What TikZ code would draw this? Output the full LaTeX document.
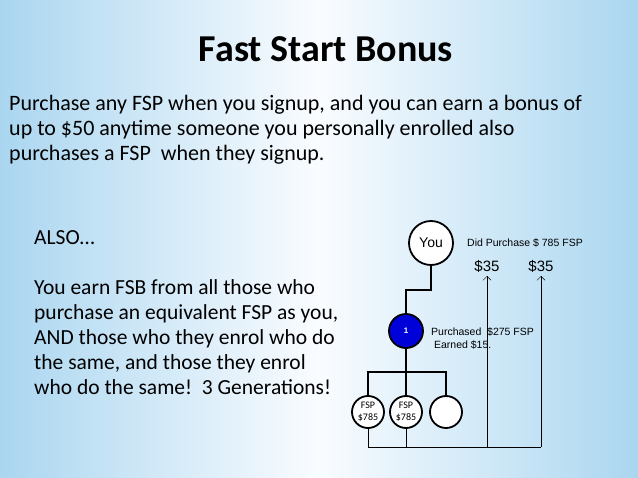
\documentclass[tikz,border=0pt]{standalone}
\usepackage{fontspec}
\setmainfont{Carlito}
\newfontfamily\arial{Liberation Sans}
\usetikzlibrary{arrows.meta}
\definecolor{bgblue}{RGB}{170,214,240}
\definecolor{bglight}{RGB}{250,252,255}
\begin{document}
\begin{tikzpicture}[x=1pt,y=-1pt,
  thick/.style={line width=2pt},
  circ/.style={circle,draw=black,line width=1.8pt,fill=white,inner sep=0pt},
  body/.style={font=\fontsize{21.5}{25}\selectfont,align=left,anchor=north west,inner sep=0pt},
  lab/.style={font=\arial\fontsize{10.5}{13}\selectfont,inner sep=0pt}]
\useasboundingbox (0,0) rectangle (638,478);
\shade[left color=bgblue, right color=bgblue, middle color=bglight] (0,0) rectangle (638,478);
\node[font=\fontsize{38}{42}\selectfont\bfseries] (title) at (326,49) {Fast Start Bonus};
\node[body,font=\fontsize{22}{25}\selectfont] (intro) at (9,95) {Purchase any FSP when you signup, and you can earn a bonus of\\up to \$50 anytime someone you personally enrolled also\\purchases a FSP\ \ when they signup.};
\node[body] (also) at (34,230) {ALSO…};
\node[body] (earn) at (34,279) {You earn FSB from all those who\\purchase an equivalent FSP as you,\\AND those who they enrol who do\\the same, and those they enrol\\who do the same!\ \ 3 Generations!};
\node[circ,minimum size=44pt,font=\arial\fontsize{14}{16}\selectfont] (you) at (431,243) {You};
\node[circ,minimum size=34pt,fill=blue!85!black,font=\arial\bfseries\fontsize{8}{10}\selectfont,text=white] (one) at (406,331) {1};
\node[circ,minimum size=32pt,font=\fontsize{10}{12}\selectfont,align=center] (c1) at (368,412) {FSP\\\$785};
\node[circ,minimum size=32pt,font=\fontsize{10}{12}\selectfont,align=center] (c2) at (406,412) {FSP\\\$785};
\node[circ,minimum size=32pt] (c3) at (446,412) {};
\draw[thick] (you.south) |- (406,290) -- (one.north);
\draw[thick] (one.south) -- (406,372);
\draw[thick] (c1.north) |- (c3.north |- 0,372) -- (c3.north);
\draw[thick] (406,372) -- (c2.north);
\coordinate (b1) at (368,447);
\coordinate (b4) at (541,447);
\node[lab] (did) at (525,243) {Did Purchase \$ 785 FSP};
\node[font=\arial\fontsize{15}{17}\selectfont,inner sep=0pt] (d1) at (487,266) {\$35};
\node[font=\arial\fontsize{15}{17}\selectfont,inner sep=0pt] (d2) at (541,266) {\$35};
\draw (c1.south) -- (b1) -- (b4);
\draw (c2.south) -- (c2.south |- b1);
\draw[-{Straight Barb[length=4pt]}] (487,447) -- (487,276);
\draw[-{Straight Barb[length=4pt]}] (b4) -- (541,276);
\node[lab,align=left,anchor=west] (pur) at (431,338) {Purchased\ \ \$275 FSP\\\ Earned \$15.};
\end{tikzpicture}
\end{document}
